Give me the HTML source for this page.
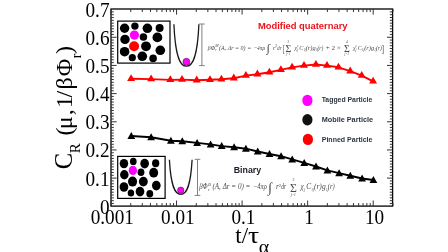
<!DOCTYPE html>
<html><head><meta charset="utf-8"><style>
html,body{margin:0;padding:0;background:#fff;width:448px;height:252px;overflow:hidden}
svg{display:block}
</style></head><body><svg width="448" height="252" viewBox="0 0 448 252"><rect x="111.0" y="9.0" width="281.6" height="197.1" fill="none" stroke="#000" stroke-width="1.3"/><path d="M111 206.1v-5.6M111 9.0v5.6M130.73 206.1v-3M130.73 9.0v3M142.28 206.1v-3M142.28 9.0v3M150.47 206.1v-3M150.47 9.0v3M156.82 206.1v-3M156.82 9.0v3M162.01 206.1v-3M162.01 9.0v3M166.4 206.1v-3M166.4 9.0v3M170.2 206.1v-3M170.2 9.0v3M173.55 206.1v-3M173.55 9.0v3M176.55 206.1v-5.6M176.55 9.0v5.6M196.28 206.1v-3M196.28 9.0v3M207.83 206.1v-3M207.83 9.0v3M216.02 206.1v-3M216.02 9.0v3M222.37 206.1v-3M222.37 9.0v3M227.56 206.1v-3M227.56 9.0v3M231.95 206.1v-3M231.95 9.0v3M235.75 206.1v-3M235.75 9.0v3M239.1 206.1v-3M239.1 9.0v3M242.1 206.1v-5.6M242.1 9.0v5.6M261.83 206.1v-3M261.83 9.0v3M273.38 206.1v-3M273.38 9.0v3M281.57 206.1v-3M281.57 9.0v3M287.92 206.1v-3M287.92 9.0v3M293.11 206.1v-3M293.11 9.0v3M297.5 206.1v-3M297.5 9.0v3M301.3 206.1v-3M301.3 9.0v3M304.65 206.1v-3M304.65 9.0v3M307.65 206.1v-5.6M307.65 9.0v5.6M327.38 206.1v-3M327.38 9.0v3M338.93 206.1v-3M338.93 9.0v3M347.12 206.1v-3M347.12 9.0v3M353.47 206.1v-3M353.47 9.0v3M358.66 206.1v-3M358.66 9.0v3M363.05 206.1v-3M363.05 9.0v3M366.85 206.1v-3M366.85 9.0v3M370.2 206.1v-3M370.2 9.0v3M373.2 206.1v-5.6M373.2 9.0v5.6M392.93 206.1v-3M392.93 9.0v3M111.0 203.48h2.8M392.6 203.48h-2.8M111.0 200.67h2.8M392.6 200.67h-2.8M111.0 197.85h2.8M392.6 197.85h-2.8M111.0 195.03h2.8M392.6 195.03h-2.8M111.0 192.21h2.8M392.6 192.21h-2.8M111.0 189.4h2.8M392.6 189.4h-2.8M111.0 186.58h2.8M392.6 186.58h-2.8M111.0 183.76h2.8M392.6 183.76h-2.8M111.0 180.94h2.8M392.6 180.94h-2.8M111.0 178.12h5.6M392.6 178.12h-5.6M111.0 175.31h2.8M392.6 175.31h-2.8M111.0 172.49h2.8M392.6 172.49h-2.8M111.0 169.67h2.8M392.6 169.67h-2.8M111.0 166.86h2.8M392.6 166.86h-2.8M111.0 164.04h2.8M392.6 164.04h-2.8M111.0 161.22h2.8M392.6 161.22h-2.8M111.0 158.4h2.8M392.6 158.4h-2.8M111.0 155.59h2.8M392.6 155.59h-2.8M111.0 152.77h2.8M392.6 152.77h-2.8M111.0 149.95h5.6M392.6 149.95h-5.6M111.0 147.13h2.8M392.6 147.13h-2.8M111.0 144.31h2.8M392.6 144.31h-2.8M111.0 141.5h2.8M392.6 141.5h-2.8M111.0 138.68h2.8M392.6 138.68h-2.8M111.0 135.86h2.8M392.6 135.86h-2.8M111.0 133.05h2.8M392.6 133.05h-2.8M111.0 130.23h2.8M392.6 130.23h-2.8M111.0 127.41h2.8M392.6 127.41h-2.8M111.0 124.59h2.8M392.6 124.59h-2.8M111.0 121.78h5.6M392.6 121.78h-5.6M111.0 118.96h2.8M392.6 118.96h-2.8M111.0 116.14h2.8M392.6 116.14h-2.8M111.0 113.32h2.8M392.6 113.32h-2.8M111.0 110.51h2.8M392.6 110.51h-2.8M111.0 107.69h2.8M392.6 107.69h-2.8M111.0 104.87h2.8M392.6 104.87h-2.8M111.0 102.05h2.8M392.6 102.05h-2.8M111.0 99.24h2.8M392.6 99.24h-2.8M111.0 96.42h2.8M392.6 96.42h-2.8M111.0 93.6h5.6M392.6 93.6h-5.6M111.0 90.78h2.8M392.6 90.78h-2.8M111.0 87.97h2.8M392.6 87.97h-2.8M111.0 85.15h2.8M392.6 85.15h-2.8M111.0 82.33h2.8M392.6 82.33h-2.8M111.0 79.51h2.8M392.6 79.51h-2.8M111.0 76.69h2.8M392.6 76.69h-2.8M111.0 73.88h2.8M392.6 73.88h-2.8M111.0 71.06h2.8M392.6 71.06h-2.8M111.0 68.24h2.8M392.6 68.24h-2.8M111.0 65.43h5.6M392.6 65.43h-5.6M111.0 62.61h2.8M392.6 62.61h-2.8M111.0 59.79h2.8M392.6 59.79h-2.8M111.0 56.97h2.8M392.6 56.97h-2.8M111.0 54.16h2.8M392.6 54.16h-2.8M111.0 51.34h2.8M392.6 51.34h-2.8M111.0 48.52h2.8M392.6 48.52h-2.8M111.0 45.7h2.8M392.6 45.7h-2.8M111.0 42.89h2.8M392.6 42.89h-2.8M111.0 40.07h2.8M392.6 40.07h-2.8M111.0 37.25h5.6M392.6 37.25h-5.6M111.0 34.43h2.8M392.6 34.43h-2.8M111.0 31.62h2.8M392.6 31.62h-2.8M111.0 28.8h2.8M392.6 28.8h-2.8M111.0 25.98h2.8M392.6 25.98h-2.8M111.0 23.16h2.8M392.6 23.16h-2.8M111.0 20.34h2.8M392.6 20.34h-2.8M111.0 17.53h2.8M392.6 17.53h-2.8M111.0 14.71h2.8M392.6 14.71h-2.8M111.0 11.89h2.8M392.6 11.89h-2.8" stroke="#333" stroke-width="1" fill="none"/><g font-family="Liberation Serif, serif" font-size="19.2" fill="#000"><text transform="translate(109.5 213.8) scale(1 1.05)" text-anchor="end">0</text><text transform="translate(109.5 185.62) scale(1 1.05)" text-anchor="end">0.1</text><text transform="translate(109.5 157.45) scale(1 1.05)" text-anchor="end">0.2</text><text transform="translate(109.5 129.28) scale(1 1.05)" text-anchor="end">0.3</text><text transform="translate(109.5 101.1) scale(1 1.05)" text-anchor="end">0.4</text><text transform="translate(109.5 72.93) scale(1 1.05)" text-anchor="end">0.5</text><text transform="translate(109.5 44.75) scale(1 1.05)" text-anchor="end">0.6</text><text transform="translate(109.5 16.58) scale(1 1.05)" text-anchor="end">0.7</text><text transform="translate(112.3 223.8) scale(1 1.1)" text-anchor="middle">0.001</text><text transform="translate(177.85 223.8) scale(1 1.1)" text-anchor="middle">0.01</text><text transform="translate(243.4 223.8) scale(1 1.1)" text-anchor="middle">0.1</text><text transform="translate(308.95 223.8) scale(1 1.1)" text-anchor="middle">1</text><text transform="translate(374.5 223.8) scale(1 1.1)" text-anchor="middle">10</text></g><g font-family="Liberation Serif, serif" fill="#000"><text x="235.3" y="242.5" font-size="23">t/</text><text transform="translate(247.9 242.5) scale(1.2 1.02)" font-size="23">τ</text><text transform="translate(258.8 252.7) scale(1.08 1)" font-size="18.5">α</text></g><text transform="rotate(-90)" font-family="Liberation Serif, serif" fill="#000"><tspan x="-169.2" y="72.2" font-size="24.5">C</tspan><tspan x="-153.2" y="79.6" font-size="15">R</tspan><tspan x="-135.5" y="72.2" font-size="24">(</tspan><tspan x="-129.3" y="72.2" font-size="24">μ</tspan><tspan x="-115.3" y="72.2" font-size="24">,</tspan><tspan x="-108" y="72.2" font-size="24">1</tspan><tspan x="-97.5" y="72.2" font-size="24">/</tspan><tspan x="-89.5" y="72.2" font-size="24">β</tspan><tspan x="-76.3" y="72.2" font-size="24">Φ</tspan><tspan x="-58.3" y="80.5" font-size="14">r</tspan><tspan x="-54" y="72.2" font-size="24">)</tspan></text><path d="M131.1 78.8 L151.1 79.1 L170.3 79.9 L182 79.6 L196.7 80.2 L210 79.8 L221.4 79.3 L233.8 78.2 L245.9 75.6 L257.4 74.2 L269.4 72.3 L280.9 69.9 L292.1 67.4 L304 65.6 L315.9 64.5 L327 65.6 L338.5 67.3 L350.2 71.2 L361.7 75.6 L373.1 81.3" stroke="#ff0000" stroke-width="1.9" fill="none" stroke-linejoin="round"/><path d="M131.1 74.2L135.1 81L127.1 81ZM151.1 74.5L155.1 81.3L147.1 81.3ZM170.3 75.3L174.3 82.1L166.3 82.1ZM182 75L186 81.8L178 81.8ZM196.7 75.6L200.7 82.4L192.7 82.4ZM210 75.2L214 82L206 82ZM221.4 74.7L225.4 81.5L217.4 81.5ZM233.8 73.6L237.8 80.4L229.8 80.4ZM245.9 71L249.9 77.8L241.9 77.8ZM257.4 69.6L261.4 76.4L253.4 76.4ZM269.4 67.7L273.4 74.5L265.4 74.5ZM280.9 65.3L284.9 72.1L276.9 72.1ZM292.1 62.8L296.1 69.6L288.1 69.6ZM304 61L308 67.8L300 67.8ZM315.9 59.9L319.9 66.7L311.9 66.7ZM327 61L331 67.8L323 67.8ZM338.5 62.7L342.5 69.5L334.5 69.5ZM350.2 66.6L354.2 73.4L346.2 73.4ZM361.7 71L365.7 77.8L357.7 77.8ZM373.1 76.7L377.1 83.5L369.1 83.5Z" fill="#ff0000"/><path d="M131.3 136 L151.1 137.3 L170.9 140.8 L182.3 141.2 L197.1 142.9 L210.6 144.4 L221.7 146.1 L234.1 147.2 L245.9 148.7 L257.7 151.5 L269.5 154 L281.1 156.2 L292.2 159.4 L304.2 162.9 L316 166.5 L327.4 170.4 L339.1 173.2 L350.3 175.8 L362.1 178.5 L373.4 180" stroke="#000" stroke-width="1.9" fill="none" stroke-linejoin="round"/><path d="M131.3 132L135.2 139L127.4 139ZM151.1 133.3L155 140.3L147.2 140.3ZM170.9 136.8L174.8 143.8L167 143.8ZM182.3 137.2L186.2 144.2L178.4 144.2ZM197.1 138.9L201 145.9L193.2 145.9ZM210.6 140.4L214.5 147.4L206.7 147.4ZM221.7 142.1L225.6 149.1L217.8 149.1ZM234.1 143.2L238 150.2L230.2 150.2ZM245.9 144.7L249.8 151.7L242 151.7ZM257.7 147.5L261.6 154.5L253.8 154.5ZM269.5 150L273.4 157L265.6 157ZM281.1 152.2L285 159.2L277.2 159.2ZM292.2 155.4L296.1 162.4L288.3 162.4ZM304.2 158.9L308.1 165.9L300.3 165.9ZM316 162.5L319.9 169.5L312.1 169.5ZM327.4 166.4L331.3 173.4L323.5 173.4ZM339.1 169.2L343 176.2L335.2 176.2ZM350.3 171.8L354.2 178.8L346.4 178.8ZM362.1 174.5L366 181.5L358.2 181.5ZM373.4 176L377.3 183L369.5 183Z" fill="#000"/><ellipse cx="124.6" cy="28.3" rx="4.7" ry="4.7" fill="#000"/><ellipse cx="134.9" cy="26.1" rx="3.7" ry="3.7" fill="#000"/><ellipse cx="147.4" cy="28.3" rx="4.8" ry="4.8" fill="#000"/><ellipse cx="159.6" cy="27.9" rx="4" ry="4" fill="#000"/><ellipse cx="125" cy="39.4" rx="4.7" ry="4.7" fill="#000"/><ellipse cx="143.4" cy="37" rx="3.8" ry="3.8" fill="#000"/><ellipse cx="157.4" cy="37.4" rx="4.9" ry="4.9" fill="#000"/><ellipse cx="146" cy="46.3" rx="4.9" ry="4.9" fill="#000"/><ellipse cx="124.6" cy="51.7" rx="4.8" ry="4.8" fill="#000"/><ellipse cx="160.3" cy="50.3" rx="4.8" ry="4.8" fill="#000"/><ellipse cx="132.3" cy="57.7" rx="3.6" ry="3.6" fill="#000"/><ellipse cx="142.3" cy="56.3" rx="4.8" ry="4.8" fill="#000"/><ellipse cx="153.1" cy="58.4" rx="3.8" ry="3.8" fill="#000"/><ellipse cx="134.4" cy="35.1" rx="4.6" ry="4.6" fill="#ff00ff"/><ellipse cx="134.1" cy="46.3" rx="5" ry="5" fill="#ff0000"/><rect x="117.7" y="21.1" width="52.3" height="42" fill="none" stroke="#000" stroke-width="1.2"/><ellipse cx="123.95" cy="163.6" rx="4.26" ry="4.7" fill="#000"/><ellipse cx="133.29" cy="161.4" rx="3.35" ry="3.7" fill="#000"/><ellipse cx="144.62" cy="163.6" rx="4.35" ry="4.8" fill="#000"/><ellipse cx="155.67" cy="163.2" rx="3.63" ry="4" fill="#000"/><ellipse cx="124.32" cy="174.7" rx="4.26" ry="4.7" fill="#000"/><ellipse cx="140.99" cy="172.3" rx="3.44" ry="3.8" fill="#000"/><ellipse cx="153.68" cy="172.7" rx="4.44" ry="4.9" fill="#000"/><ellipse cx="143.35" cy="181.6" rx="4.44" ry="4.9" fill="#000"/><ellipse cx="123.95" cy="187" rx="4.35" ry="4.8" fill="#000"/><ellipse cx="156.31" cy="185.6" rx="4.35" ry="4.8" fill="#000"/><ellipse cx="130.93" cy="193" rx="3.26" ry="3.6" fill="#000"/><ellipse cx="140" cy="191.6" rx="4.35" ry="4.8" fill="#000"/><ellipse cx="149.78" cy="193.7" rx="3.44" ry="3.8" fill="#000"/><ellipse cx="132.84" cy="170.4" rx="4.17" ry="4.6" fill="#ff00ff"/><ellipse cx="132.56" cy="181.6" rx="4.53" ry="5" fill="#000"/><rect x="117.7" y="156.4" width="47.4" height="42" fill="none" stroke="#000" stroke-width="1.2"/><path d="M173.9 24.2 C175.4 58.2 180.4 66.2 186.4 66.2 C192.4 66.2 197.4 58.2 198.9 24.2" stroke="#1a1a1a" stroke-width="1.3" fill="none"/><circle cx="186.4" cy="61.8" r="3.5" fill="#ff00ff" stroke="#333" stroke-width="0.6"/><path d="M169.4 159.8 C170.9 186.3 174.75 194.3 180.75 194.3 C186.75 194.3 190.6 186.3 192.1 159.8" stroke="#1a1a1a" stroke-width="1.3" fill="none"/><circle cx="180.75" cy="190.2" r="3.2" fill="#ff00ff" stroke="#333" stroke-width="0.6"/><path d="M201.9 24V65.6M199.1 24h5.6M199.1 65.6h5.6" stroke="#7a8288" stroke-width="1" fill="none"/><path d="M197.5 159.3V195.4M194.7 159.3h5.6M194.7 195.4h5.6" stroke="#7a8288" stroke-width="1" fill="none"/><g font-family="Liberation Serif, serif"><text x="207.8" y="49.6" font-size="6.4" fill="#4a4a4a" font-style="italic" textLength="7.2" lengthAdjust="spacingAndGlyphs">βΦ</text><text x="215.2" y="50.9" font-size="4" fill="#4a4a4a" font-style="italic">r</text><text x="215.2" y="46.9" font-size="4" fill="#4a4a4a" font-style="italic">M</text><text x="219" y="49.6" font-size="6.4" fill="#4a4a4a" font-style="italic" textLength="32.2" lengthAdjust="spacingAndGlyphs">(A, Δr = 0) =</text><text x="253.4" y="49.6" font-size="6.4" fill="#4a4a4a" font-style="italic" textLength="11.7" lengthAdjust="spacingAndGlyphs">−4πρ</text><text x="266.4" y="51.9" font-size="11.5" fill="#4a4a4a" font-style="normal" textLength="3.4" lengthAdjust="spacingAndGlyphs">∫</text><text x="272.9" y="49.6" font-size="6.4" fill="#4a4a4a" font-style="italic">r</text><text x="275.2" y="47.2" font-size="4" fill="#4a4a4a" font-style="normal">2</text><text x="277.3" y="49.6" font-size="6.4" fill="#4a4a4a" font-style="italic" textLength="4.2" lengthAdjust="spacingAndGlyphs">dr</text><text x="282.4" y="52" font-size="11" fill="#a05a5a" font-style="normal" textLength="2.6" lengthAdjust="spacingAndGlyphs">[</text><text x="285.5" y="51.8" font-size="10.5" fill="#4a4a4a" font-style="normal" textLength="5.8" lengthAdjust="spacingAndGlyphs">Σ</text><text x="287.5" y="42.6" font-size="3.4" fill="#4a4a4a" font-style="normal">2</text><text x="286" y="55.2" font-size="3.4" fill="#4a4a4a" font-style="italic" textLength="4.4" lengthAdjust="spacingAndGlyphs">j=1</text><text x="294.4" y="49.6" font-size="6.4" fill="#4a4a4a" font-style="italic" textLength="2.6" lengthAdjust="spacingAndGlyphs">χ</text><text x="297" y="50.8" font-size="3.4" fill="#4a4a4a" font-style="italic">j</text><text x="297" y="47.2" font-size="3.2" fill="#4a4a4a" font-style="italic">c</text><text x="299.3" y="49.6" font-size="6.4" fill="#4a4a4a" font-style="italic" textLength="4.1" lengthAdjust="spacingAndGlyphs">C</text><text x="303.5" y="50.8" font-size="3.4" fill="#4a4a4a" font-style="italic" textLength="2.3" lengthAdjust="spacingAndGlyphs">1j</text><text x="305.7" y="49.6" font-size="6.4" fill="#4a4a4a" font-style="italic" textLength="10" lengthAdjust="spacingAndGlyphs">(r)g</text><text x="315.7" y="50.8" font-size="3.4" fill="#4a4a4a" font-style="italic" textLength="2.3" lengthAdjust="spacingAndGlyphs">1j</text><text x="317.5" y="49.6" font-size="6.4" fill="#4a4a4a" font-style="italic" textLength="5.9" lengthAdjust="spacingAndGlyphs">(r)</text><text x="325.7" y="49.6" font-size="6.4" fill="#4a4a4a" font-style="normal" textLength="15.2" lengthAdjust="spacingAndGlyphs">+ 2 ×</text><text x="344" y="51.8" font-size="10.5" fill="#4a4a4a" font-style="normal" textLength="5.8" lengthAdjust="spacingAndGlyphs">Σ</text><text x="346" y="42.6" font-size="3.4" fill="#4a4a4a" font-style="normal">4</text><text x="344.5" y="55.2" font-size="3.4" fill="#4a4a4a" font-style="italic" textLength="4.4" lengthAdjust="spacingAndGlyphs">j=3</text><text x="352.9" y="49.6" font-size="6.4" fill="#4a4a4a" font-style="italic" textLength="2.6" lengthAdjust="spacingAndGlyphs">χ</text><text x="355.5" y="50.8" font-size="3.4" fill="#4a4a4a" font-style="italic">j</text><text x="355.5" y="47.2" font-size="3.2" fill="#4a4a4a" font-style="italic">c</text><text x="357.8" y="49.6" font-size="6.4" fill="#4a4a4a" font-style="italic" textLength="4.1" lengthAdjust="spacingAndGlyphs">C</text><text x="362" y="50.8" font-size="3.4" fill="#4a4a4a" font-style="italic" textLength="2.3" lengthAdjust="spacingAndGlyphs">1j</text><text x="364.2" y="49.6" font-size="6.4" fill="#4a4a4a" font-style="italic" textLength="10" lengthAdjust="spacingAndGlyphs">(r)g</text><text x="374.2" y="50.8" font-size="3.4" fill="#4a4a4a" font-style="italic" textLength="2.3" lengthAdjust="spacingAndGlyphs">1j</text><text x="376" y="49.6" font-size="6.4" fill="#4a4a4a" font-style="italic" textLength="5.9" lengthAdjust="spacingAndGlyphs">(r)</text><text x="381.4" y="52" font-size="11" fill="#4a4a4a" font-style="normal" textLength="2.6" lengthAdjust="spacingAndGlyphs">]</text></g><g font-family="Liberation Serif, serif"><text x="199.2" y="189.4" font-size="7.55" fill="#4a4a4a" font-style="italic" textLength="8.5" lengthAdjust="spacingAndGlyphs">βΦ</text><text x="207.93" y="190.93" font-size="4.72" fill="#4a4a4a" font-style="italic">r</text><text x="207.93" y="186.21" font-size="4.72" fill="#4a4a4a" font-style="italic">B</text><text x="212.42" y="189.4" font-size="7.55" fill="#4a4a4a" font-style="italic" textLength="38" lengthAdjust="spacingAndGlyphs">(A, Δr = 0) =</text><text x="253.01" y="189.4" font-size="7.55" fill="#4a4a4a" font-style="italic" textLength="13.81" lengthAdjust="spacingAndGlyphs">−4πρ</text><text x="268.35" y="192.11" font-size="13.57" fill="#4a4a4a" font-style="normal" textLength="4.01" lengthAdjust="spacingAndGlyphs">∫</text><text x="276.02" y="189.4" font-size="7.55" fill="#4a4a4a" font-style="italic">r</text><text x="278.73" y="186.57" font-size="4.72" fill="#4a4a4a" font-style="normal">2</text><text x="281.21" y="189.4" font-size="7.55" fill="#4a4a4a" font-style="italic" textLength="4.96" lengthAdjust="spacingAndGlyphs">dr</text><text x="290.06" y="192" font-size="12.39" fill="#4a4a4a" font-style="normal" textLength="6.84" lengthAdjust="spacingAndGlyphs">Σ</text><text x="292.42" y="181.14" font-size="4.01" fill="#4a4a4a" font-style="normal">2</text><text x="290.65" y="196.01" font-size="4.01" fill="#4a4a4a" font-style="italic" textLength="5.19" lengthAdjust="spacingAndGlyphs">j=1</text><text x="300.56" y="189.4" font-size="7.55" fill="#4a4a4a" font-style="italic" textLength="3.07" lengthAdjust="spacingAndGlyphs">χ</text><text x="303.63" y="190.82" font-size="4.01" fill="#4a4a4a" font-style="italic">j</text><text x="306.34" y="189.4" font-size="7.55" fill="#4a4a4a" font-style="italic" textLength="4.84" lengthAdjust="spacingAndGlyphs">C</text><text x="311.3" y="190.82" font-size="4.01" fill="#4a4a4a" font-style="italic" textLength="2.71" lengthAdjust="spacingAndGlyphs">1j</text><text x="313.9" y="189.4" font-size="7.55" fill="#4a4a4a" font-style="italic" textLength="11.8" lengthAdjust="spacingAndGlyphs">(r)g</text><text x="325.7" y="190.82" font-size="4.01" fill="#4a4a4a" font-style="italic" textLength="2.71" lengthAdjust="spacingAndGlyphs">1j</text><text x="327.82" y="189.4" font-size="7.55" fill="#4a4a4a" font-style="italic" textLength="6.96" lengthAdjust="spacingAndGlyphs">(r)</text></g><text x="257.9" y="28.9" font-family="Liberation Sans, sans-serif" font-weight="bold" font-size="9.4" fill="#f01019" textLength="89.6" lengthAdjust="spacingAndGlyphs">Modified quaternary</text><text x="233.7" y="172.9" font-family="Liberation Sans, sans-serif" font-weight="bold" font-size="9.6" fill="#1c1c28" textLength="27.5" lengthAdjust="spacingAndGlyphs">Binary</text><ellipse cx="307.4" cy="100.4" rx="5.1" ry="5.7" fill="#ff00ff"/><text x="321.7" y="102.3" font-family="Liberation Sans, sans-serif" font-weight="bold" font-size="7.9" fill="#2a3542" textLength="50.6" lengthAdjust="spacingAndGlyphs">Tagged Particle</text><ellipse cx="307.4" cy="119.8" rx="5.1" ry="5.7" fill="#111"/><text x="321.7" y="122.2" font-family="Liberation Sans, sans-serif" font-weight="bold" font-size="7.9" fill="#2a3542" textLength="51.4" lengthAdjust="spacingAndGlyphs">Mobile Particle</text><ellipse cx="307.9" cy="139.4" rx="5.1" ry="5.7" fill="#ff0000"/><text x="321.7" y="142.0" font-family="Liberation Sans, sans-serif" font-weight="bold" font-size="7.9" fill="#2a3542" textLength="50.8" lengthAdjust="spacingAndGlyphs">Pinned Particle</text></svg></body></html>
